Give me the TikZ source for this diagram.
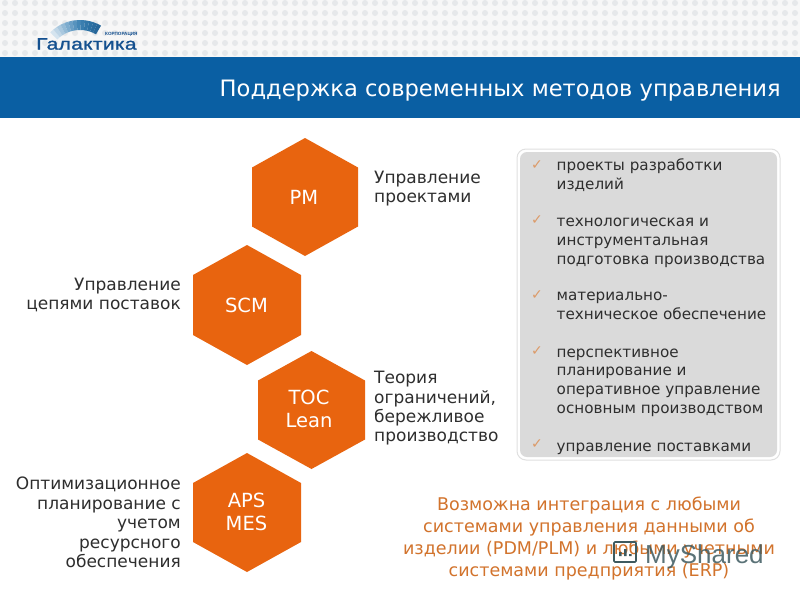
\documentclass[tikz,border=0pt]{standalone}
\usepackage{fontspec}
\setmainfont{DejaVu Sans}
\newfontfamily\logofont[FakeStretch=1.27,FakeBold=1.5,LetterSpace=2]{Liberation Sans}
\newfontfamily\logosmall{Liberation Sans}
\definecolor{hexor}{HTML}{E8640F}
\definecolor{band}{HTML}{0A5FA3}
\definecolor{txt}{HTML}{2E2E2E}
\definecolor{orangetxt}{HTML}{D2732C}
\definecolor{chkc}{HTML}{DC9A68}
\definecolor{panel}{HTML}{DADADA}
\definecolor{logoblue}{HTML}{14508F}
\definecolor{dotc}{HTML}{E6E8EA}
\definecolor{headbg}{HTML}{F7F7F7}
\definecolor{wm}{HTML}{3E5A60}
\tikzset{
  hexa/.style={fill=hexor,draw=none},
  hexlabel/.style={text=white,font=\fontsize{19.5}{23}\selectfont,align=center,inner sep=0pt},
  sidel/.style={text=txt,font=\fontsize{17}{19.4}\selectfont,align=left,anchor=north west,inner sep=0pt},
  sider/.style={text=txt,font=\fontsize{17}{19.4}\selectfont,align=right,anchor=north east,inner sep=0pt},
  listtxt/.style={text=txt,font=\fontsize{15.2}{18.7}\selectfont,align=left,anchor=north west,inner sep=0pt},
  chk/.style={text=chkc,font=\fontsize{14}{14}\selectfont,inner sep=0pt},
}
\begin{document}
\begin{tikzpicture}[x=1pt,y=-1pt]
\useasboundingbox (0,0) rectangle (800,600);
\fill[white] (0,0) rectangle (800,600);
% dotted header
\fill[headbg] (0,0) rectangle (800,57);
\foreach \i in {0,...,79}{\foreach \j in {0,...,5}{
  \fill[dotc] (\i*10+5,\j*10+3) circle (3);}}
% logo
\foreach \k/\c in {0/D5E4EF,1/BFD6E7,2/A9C8DF,3/93BAD6,4/7DACCE,5/6A9FC6,6/5793BE,7/4587B6,8/3A7EAF,9/3277A9,10/2C71A4,11/2A6C9F,12/27679A}{
  \definecolor{seg}{HTML}{\c}
  \pgfmathsetmacro{\aa}{135-\k*5.77}
  \pgfmathsetmacro{\ab}{135-(\k+1)*5.77}
  \fill[seg] ({80+42*cos(\aa)},{62-42*sin(\aa)}) -- ({80+42*cos(\ab)},{62-42*sin(\ab)})
   -- ({80+32*cos(\ab)},{62-32*sin(\ab)}) -- ({80+32*cos(\aa)},{62-32*sin(\aa)}) -- cycle;
}
\node[anchor=west,inner sep=0pt,text=logoblue] (logo) at (36,44) {\logofont\fontsize{16.5}{17}\selectfont Галактика};
\node[anchor=west,inner sep=0pt,text=logoblue] (logosub) at (105,34.5) {\logosmall\bfseries\fontsize{4.6}{5}\selectfont КОРПОРАЦИЯ};
% band
\fill[band] (0,57) rectangle (800,118);
\node[anchor=west,inner sep=0pt,text=white] (title) at (219.5,91) {\fontsize{22.6}{26}\selectfont Поддержка современных методов управления};
% hexagons
\fill[hexa] (305,138) -- (358,167.5) -- (358,226.5) -- (305,256) -- (252,226.5) -- (252,167.5) -- cycle;
\fill[hexa] (247,245) -- (301,275) -- (301,335) -- (247,365) -- (193,335) -- (193,275) -- cycle;
\fill[hexa] (311.5,351) -- (365,380.5) -- (365,439.5) -- (311.5,469) -- (258,439.5) -- (258,380.5) -- cycle;
\fill[hexa] (247,453) -- (301,483) -- (301,542) -- (247,572) -- (193,542) -- (193,483) -- cycle;
\node[hexlabel] (pm) at (304,197) {PM};
\node[hexlabel] (scm) at (246.5,305) {SCM};
\node[hexlabel] (toc) at (309,409) {TOC\\Lean};
\node[hexlabel] (aps) at (246.5,512) {APS\\MES};
% side labels
\node[sidel] (l1) at (374,170.5) {Управление\\проектами};
\node[sider] (l2) at (181,278) {Управление\\цепями поставок};
\node[sidel] (l3) at (374,371) {Теория\\ограничений,\\бережливое\\производство};
\node[sider] (l4) at (181,477) {Оптимизационное\\планирование с\\учетом\\ресурсного\\обеспечения};
% panel
\draw[fill=white,draw=black!12,line width=1pt,rounded corners=9pt] (517,149) rectangle (780,460);
\fill[panel,rounded corners=7pt] (520,152) rectangle (777,457);
\node[listtxt] (a) at (556.5,158.5) {проекты разработки\\изделий};
\node[listtxt] (b) at (556.5,218) {технологическая и\\инструментальная\\подготовка производства};
\node[listtxt] (c) at (556.5,292) {материально-\\техническое обеспечение};
\node[listtxt] (d) at (556.5,348.5) {перспективное\\планирование и\\оперативное управление\\основным производством};
\node[listtxt] (e) at (556.5,443) {управление поставками};
\foreach \y in {165,220,295,351,444}{
  \node[chk] at (537,\y) {✓};
}
% bottom text
\node[text=orangetxt,font=\fontsize{17.5}{22}\selectfont,align=center,inner sep=0pt,anchor=north] (bot) at (589,497) {Возможна интеграция с любыми\\системами управления данными об\\изделии (PDM/PLM) и любыми учетными\\системами предприятия (ERP)};
% watermark
\draw[wm,line width=1.6pt,rounded corners=1pt] (614,542) rectangle (636,562);
\fill[wm] (619,556) rectangle +(2.5,-4) (624,556) rectangle +(2.5,-7) (629,556) rectangle +(2.5,-2);
\node[anchor=west,inner sep=0pt,text=wm,opacity=.85] (ms) at (645,557) {\logosmall\fontsize{26}{26}\selectfont MyShared};
\end{tikzpicture}
\end{document}
